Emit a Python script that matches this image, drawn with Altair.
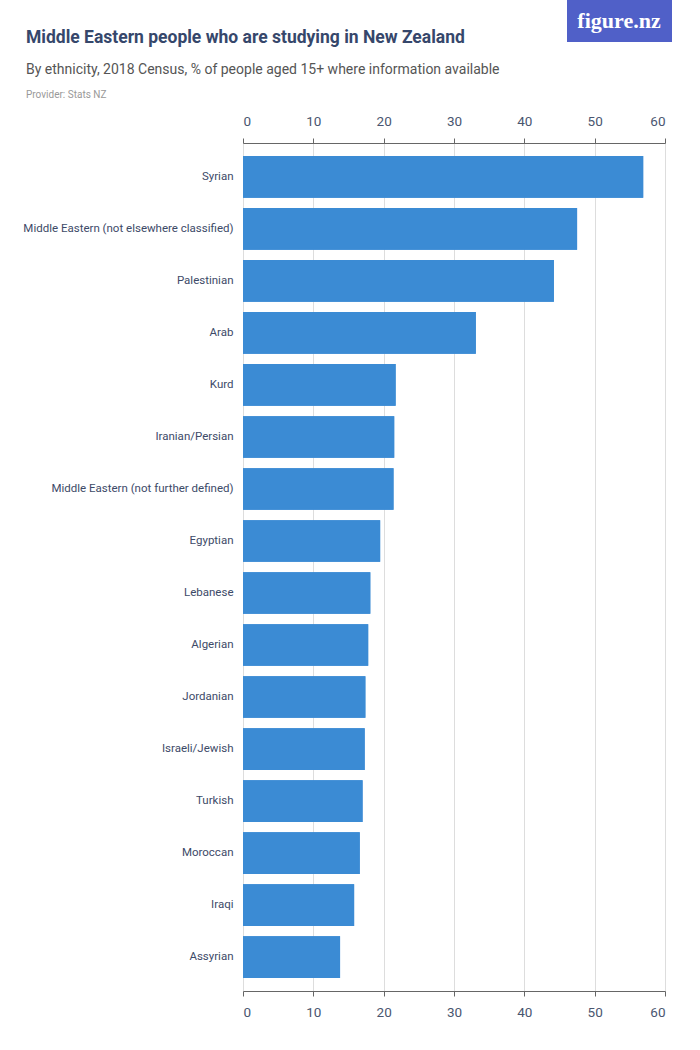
import altair as alt
import pandas as pd

categories = [
    "Syrian", "Middle Eastern (not elsewhere classified)", "Palestinian", "Arab",
    "Kurd", "Iranian/Persian", "Middle Eastern (not further defined)", "Egyptian",
    "Lebanese", "Algerian", "Jordanian", "Israeli/Jewish", "Turkish", "Moroccan",
    "Iraqi", "Assyrian",
]
values = [56.9, 47.5, 44.2, 33.1, 21.7, 21.5, 21.4, 19.5, 18.1, 17.8, 17.4, 17.3,
          17.0, 16.6, 15.8, 13.8]
x_ticks = [0, 10, 20, 30, 40, 50, 60]

title_text = "Middle Eastern people who are studying in New Zealand"
subtitle_text = "By ethnicity, 2018 Census, % of people aged 15+ where information available"
provider_text = "Provider: Stats NZ"
logo_text = "figure.nz"

FONT = "Roboto"

df = pd.DataFrame({"ethnicity": categories, "value": values})

W, H = 422, 848

xscale = alt.Scale(domain=[0, 60], nice=False, zero=True)
yscale = alt.Scale(domain=categories, paddingInner=0.2, paddingOuter=0.25)
yenc = alt.Y("ethnicity:N", sort=categories, scale=yscale,
             axis=alt.Axis(title=None, domain=False, ticks=False, labelPadding=10,
                           labelFontSize=11.5, labelColor="#3d4a68", labelFont=FONT,
                           labelLimit=240))

axis_common = dict(title=None, values=x_ticks, domainColor="#666666", tickColor="#666666",
                   tickSize=5, labelFontSize=13.5, labelColor="#4a5670", labelFont=FONT)

bars_top = alt.Chart(df).mark_bar(color="#3b8bd4").encode(
    x=alt.X("value:Q", scale=xscale,
            axis=alt.Axis(orient="top", grid=True, gridColor="#dddddd", labelPadding=10,
                          **axis_common)),
    y=yenc,
)
bars_bottom = alt.Chart(df).mark_bar(color="#3b8bd4").encode(
    x=alt.X("value:Q", scale=xscale,
            axis=alt.Axis(orient="bottom", grid=False, labelPadding=9, **axis_common)),
    y=yenc,
)

one = pd.DataFrame({"t": [title_text], "s": [subtitle_text], "p": [provider_text],
                    "l": [logo_text]})

title = alt.Chart(one).mark_text(align="left", baseline="alphabetic", fontSize=17.5,
                                 fontWeight="bold", color="#36476b", font=FONT).encode(
    text="t:N", x=alt.value(-217), y=alt.value(-100))
subtitle = alt.Chart(one).mark_text(align="left", baseline="alphabetic", fontSize=14,
                                    color="#555555", font=FONT).encode(
    text="s:N", x=alt.value(-217), y=alt.value(-69))
provider = alt.Chart(one).mark_text(align="left", baseline="alphabetic", fontSize=10,
                                    color="#999999", font=FONT).encode(
    text="p:N", x=alt.value(-217), y=alt.value(-45))
logo_box = alt.Chart(one).mark_rect(color="#5060c8").encode(
    x=alt.value(324), x2=alt.value(429), y=alt.value(-143), y2=alt.value(-101))
logo = alt.Chart(one).mark_text(align="center", baseline="alphabetic", fontSize=22,
                                fontWeight="bold", color="white",
                                font="Liberation Serif").encode(
    text="l:N", x=alt.value(376), y=alt.value(-115))

chart = alt.layer(bars_top, bars_bottom, title, subtitle, provider, logo_box, logo).resolve_axis(
    x="independent"
).properties(
    width=W, height=H,
    autosize=alt.AutoSizeParams(type="none"),
    padding={"left": 243, "top": 143, "right": 35, "bottom": 59},
    background="white",
).configure_view(stroke=None)

chart.save("out.html", embed_options={"renderer": "svg", "actions": False})
